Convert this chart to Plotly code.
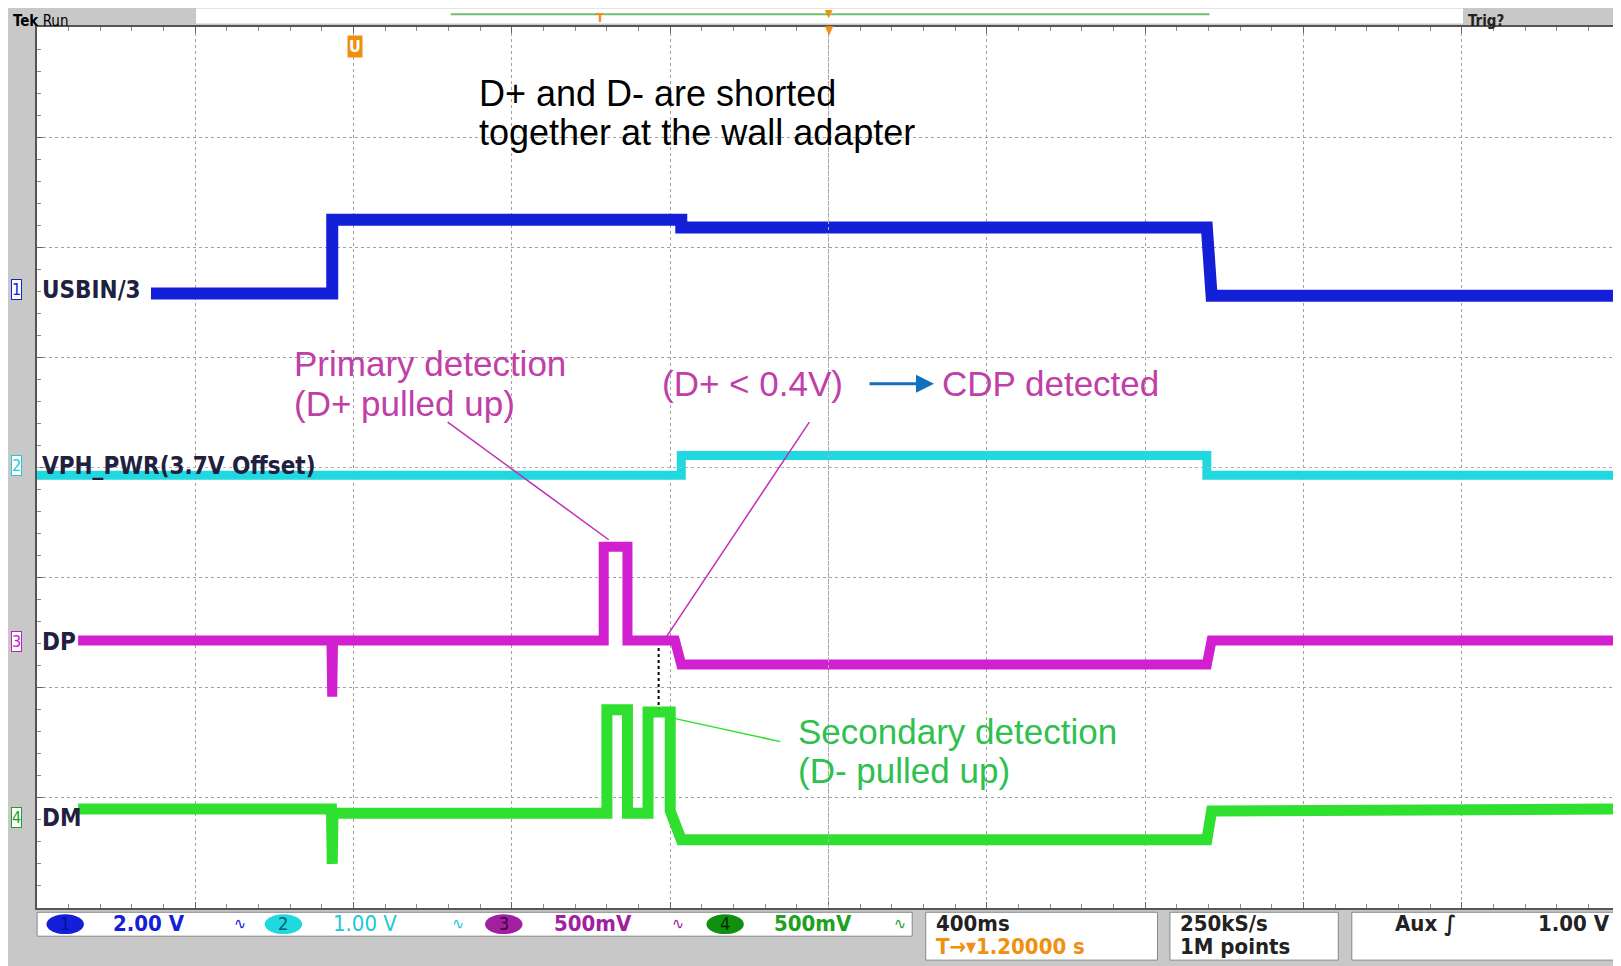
import plotly.graph_objects as go

# === Waveform data (x in divisions 0..10, y in divisions 0..8) ===
usbin_x = [0.72, 1.865, 1.865, 4.07, 4.07, 7.39, 7.42, 10.0]
usbin_y = [5.58, 5.58, 6.25, 6.25, 6.18, 6.18, 5.56, 5.56]

vph_x = [0.0, 4.07, 4.07, 7.39, 7.39, 10.0]
vph_y = [3.93, 3.93, 4.11, 4.11, 3.93, 3.93]

dp_x = [0.26, 1.86, 1.865, 1.87, 3.58, 3.58, 3.73, 3.73, 4.03, 4.07, 7.39, 7.42, 10.0]
dp_y = [2.43, 2.43, 1.92, 2.43, 2.43, 3.28, 3.28, 2.43, 2.43, 2.21, 2.21, 2.43, 2.43]

dm_x = [0.26, 1.86, 1.865, 1.87, 3.6, 3.6, 3.73, 3.73, 3.86, 3.86, 4.0, 4.0, 4.07, 7.39, 7.42, 10.0]
dm_y = [0.9, 0.9, 0.4, 0.86, 0.86, 1.8, 1.8, 0.86, 0.86, 1.78, 1.78, 0.88, 0.62, 0.62, 0.88, 0.9]

W, H = 1621, 966
L, R, T, B = 29, 1614, 19, 900


def o(d):
    return (d - 7) / 0.961  # reference view -> page pixels


def px(x):
    return (o(x) - L) / (R - L)


def py(y):
    return (B - o(y)) / (B - T)


fig = go.Figure()
fig.add_trace(go.Scatter(x=usbin_x, y=usbin_y, mode="lines", line=dict(color="#1420d8", width=12)))
fig.add_trace(go.Scatter(x=vph_x, y=vph_y, mode="lines", line=dict(color="#20d8e0", width=9)))
fig.add_trace(go.Scatter(x=dp_x, y=dp_y, mode="lines", line=dict(color="#d020d0", width=10)))
fig.add_trace(go.Scatter(x=dm_x, y=dm_y, mode="lines", line=dict(color="#30e030", width=11)))

shapes = []
# annotation pointer lines
shapes.append(dict(type="line", xref="paper", yref="paper", x0=px(430), y0=py(405), x1=px(585), y1=py(518),
                   line=dict(color="#c030b0", width=1.5)))
shapes.append(dict(type="line", xref="paper", yref="paper", x0=px(778), y0=py(405), x1=px(640), y1=py(612),
                   line=dict(color="#c030b0", width=1.5)))
shapes.append(dict(type="line", xref="paper", yref="paper", x0=px(750), y0=py(712), x1=px(640), y1=py(688),
                   line=dict(color="#30e030", width=1.5)))
shapes.append(dict(type="line", xref="paper", yref="paper", x0=px(633), y0=py(622), x1=px(633), y1=py(680),
                   line=dict(color="black", width=2, dash="dot")))
# status bar boxes
for x0, x1 in [(35, 877), (890, 1113), (1125, 1287), (1300, 1557)]:
    shapes.append(dict(type="rect", xref="paper", yref="paper", x0=px(x0), x1=px(x1), y0=py(876),
                       y1=py(922 if x0 > 880 else 899), fillcolor="white", line=dict(color="#888", width=1)))
# channel badges
for x, c in [(62, "#1420d8"), (272, "#20d8e0"), (484, "#a020a0"), (697, "#109010")]:
    shapes.append(dict(type="circle", xref="paper", yref="paper", x0=px(x - 18), x1=px(x + 18),
                       y0=py(878), y1=py(897), fillcolor=c, line=dict(width=0)))
# top bar
shapes.append(dict(type="rect", xref="paper", yref="paper", x0=px(188), x1=px(1407), y0=py(22), y1=py(7.5),
                   fillcolor="white", line=dict(width=0)))
shapes.append(dict(type="line", xref="paper", yref="paper", x0=px(433), x1=px(1163), y0=py(13), y1=py(13),
                   line=dict(color="#70c070", width=2)))
# centre crosshair
shapes.append(dict(type="line", x0=5, x1=5, y0=0, y1=8, line=dict(color="#b0b0b0", width=1, dash="dot")))
shapes.append(dict(type="line", x0=0, x1=10, y0=4, y1=4, line=dict(color="#b0b0b0", width=1, dash="dot")))

ann = []


def txt(x, y, s, color="black", size=14, anchor="left", family="DejaVu Sans Condensed", va="middle", **kw):
    ann.append(dict(xref="paper", yref="paper", x=px(x), y=py(y), text=s, showarrow=False,
                    xanchor=anchor, yanchor=va, font=dict(color=color, size=size, family=family), **kw))


F = "Liberation Sans"
txt(458, 89, "D+ and D- are shorted", size=36, family=F)
txt(458, 127, "together at the wall adapter", size=36, family=F)
txt(280, 349, "Primary detection", "#c040a8", 35, family=F)
txt(280, 387, "(D+ pulled up)", "#c040a8", 35, family=F)
txt(634, 368, "(D+ < 0.4V)", "#c040a8", 35, family=F)
txt(904, 368, "CDP detected", "#c040a8", 35, family=F)
txt(765, 702, "Secondary detection", "#30c050", 35, family=F)
txt(765, 740, "(D- pulled up)", "#30c050", 35, family=F)
ann.append(dict(xref="paper", yref="paper", x=px(898), y=py(368), ax=-66, ay=0,
                axref="pixel", ayref="pixel", text="", showarrow=True, arrowhead=2, arrowsize=1.2,
                arrowwidth=3, arrowcolor="#1070c0"))
# channel labels
for y, n, c, lab in [(278, "1", "#1420d8", "USBIN/3"), (447, "2", "#20c8d8", "VPH_PWR(3.7V Offset)"),
                     (616, "3", "#c020c0", "DP"), (785, "4", "#20a020", "DM")]:
    txt(10, y, n, c, 16, bordercolor=c, borderwidth=1, borderpad=0, bgcolor="white")
    txt(38, y, "<b>%s</b>" % lab, "#202040", 24)
# top bar
txt(10, 8.5, "<b>Tek</b> Run", "black", 15, va="top")
txt(1410, 8.5, "<b>Trig?</b>", "#222", 15, va="top")
txt(341, 44, "<b>U</b>", "white", 16, "center", bgcolor="#f09010")
txt(577, 16, "<b>T</b>", "#f09010", 13, "center")
txt(797, 12, "▼", "#f09010", 11, "center")
txt(797, 28, "▼", "#f09010", 12, "center")
# bottom status
for x, s, c in [(62, "1", "#0010a0"), (272, "2", "#006070"), (484, "3", "#400040"), (697, "4", "#003000")]:
    txt(x, 887, s, c, 18, "center")
txt(106, 887, "<b>2.00 V</b>", "#1420d8", 22)
txt(318, 887, "1.00 V", "#20c8d8", 22)
txt(530, 887, "<b>500mV</b>", "#a020a0", 22)
txt(742, 887, "<b>500mV</b>", "#20a020", 22)
for x, c in [(230, "#1420d8"), (440, "#20c8d8"), (652, "#a020a0"), (865, "#20a020")]:
    txt(x, 887, "∿", c, 16, "center")
txt(898, 887, "<b>400ms</b>", "#222", 22)
txt(898, 909, "<b>T→▾1.20000 s</b>", "#f09010", 22)
txt(1133, 887, "<b>250kS/s</b>", "#222", 22)
txt(1133, 909, "<b>1M points</b>", "#222", 22)
txt(1340, 887, "<b>Aux ∫</b>", "#222", 22)
txt(1550, 887, "<b>1.00 V</b>", "#222", 22, "right")

ax = dict(showgrid=True, gridcolor="#a0a0a0", griddash="dot", gridwidth=1, zeroline=False,
          showticklabels=False, ticks="inside", ticklen=6, tickcolor="#666", showline=True,
          linecolor="#555", linewidth=1.5, mirror="ticks", dtick=1,
          minor=dict(ticks="inside", ticklen=4, dtick=0.2, tickcolor="#888"))
fig.update_layout(
    width=W, height=H, margin=dict(l=L, r=W - R, t=T, b=H - B),
    paper_bgcolor="#c8c8c8", plot_bgcolor="white", showlegend=False,
    xaxis=dict(range=[0, 10], **ax), yaxis=dict(range=[0, 8], **ax),
    shapes=shapes, annotations=ann,
)
fig.write_html("out.html")
